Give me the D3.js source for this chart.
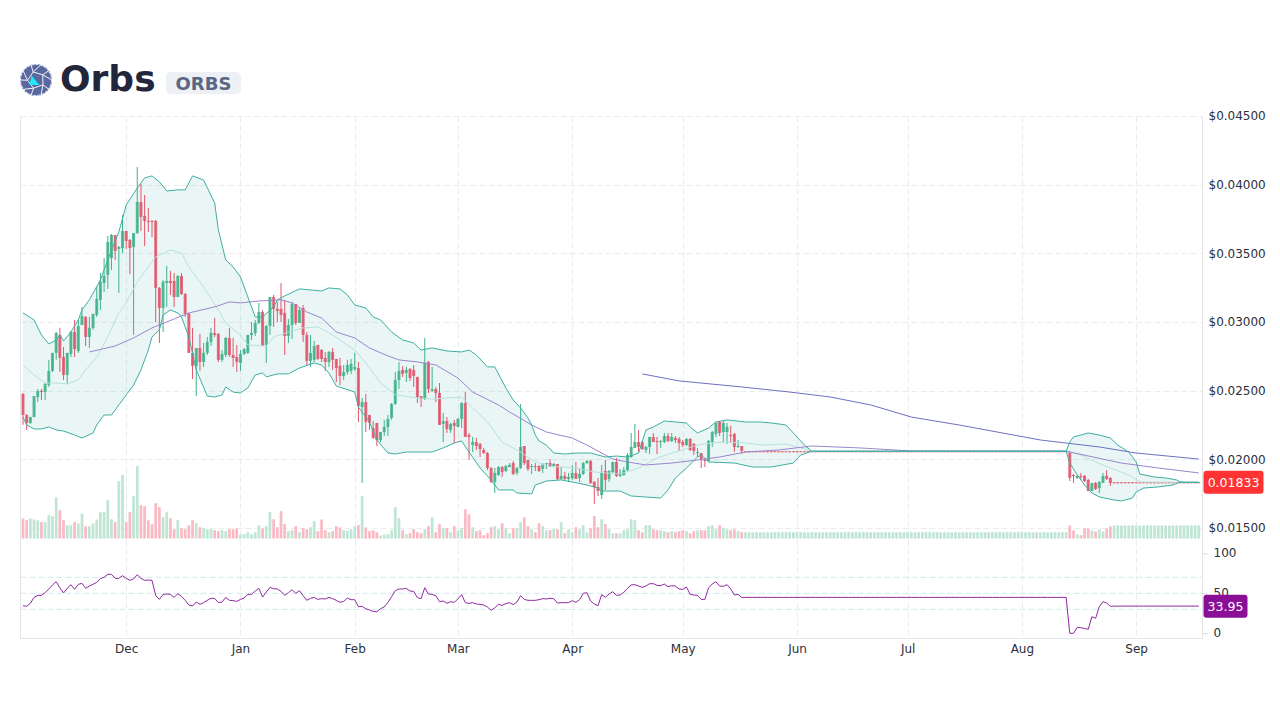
<!DOCTYPE html>
<html>
<head>
<meta charset="utf-8">
<title>Orbs</title>
<script src="https://cdn.jsdelivr.net/npm/d3@7"></script>
<style>
  html, body { margin: 0; background: #fff; }
  text { font-family: "DejaVu Sans", sans-serif; }
</style>
</head>
<body>
<svg id="chart" width="1280" height="720"></svg>
<script>
// prices below are in hundred-thousandths of a dollar, one entry per day from 3 Nov
const toDollars = d => d / 1e5

const opens = [
  2476,2323,2265,2308,2454,2498,2490,2542,2644,2775,
  2906,2745,2615,2767,2927,2789,2978,3037,2891,2957,
  3052,3161,3284,3343,3466,3634,3532,3539,3663,3597,
  3546,3648,3874,3772,3736,3736,3736,3248,3102,3284,
  3299,3299,3182,3335,3204,3059,2775,2680,2811,2709,
  2775,2855,2920,2913,2724,2760,2884,2760,2745,2702,
  2767,2775,2906,2920,2993,3073,2833,2971,3182,3095,
  3095,3066,2898,2978,3131,2993,3102,2906,2717,2724,
  2833,2796,2738,2709,2782,2731,2680,2607,2636,2644,
  2658,2665,2381,2417,2323,2228,2265,2141,2199,2236,
  2301,2403,2578,2651,2629,2658,2651,2600,2461,2439,
  2709,2498,2512,2483,2258,2279,2214,2265,2236,2294,
  2410,2177,2104,2126,2112,2068,2046,1937,1835,1886,
  1944,1915,1944,1973,1901,1937,2097,1995,1944,1951,
  1951,1930,1966,1973,1944,1966,1857,1879,1857,1864,
  1901,1864,1893,1973,1988,1835,1799,1740,1915,1857,
  1908,1981,1879,1886,1922,2017,2083,2126,2126,2068,
  2090,2163,2133,2126,2126,2170,2133,2155,2148,2126,
  2104,2148,2112,2046,2046,1995,1988,2126,2185,2272,
  2199,2199,2177,2185,2090,2097,2059,2059,2059,2059,
  2059,2059,2059,2059,2059,2059,2059,2059,2059,2059,
  2059,2059,2059,2059,2059,2059,2059,2059,2059,2059,
  2059,2059,2059,2059,2059,2059,2059,2059,2059,2059,
  2059,2059,2059,2059,2059,2059,2059,2059,2059,2059,
  2059,2059,2059,2059,2059,2059,2059,2059,2059,2059,
  2059,2059,2059,2059,2059,2059,2059,2059,2059,2059,
  2059,2059,2059,2059,2059,2059,2059,2059,2059,2059,
  2059,2059,2059,2059,2059,2059,2059,2059,2059,2059,
  2059,2059,2059,2059,2053,1886,1864,1879,1879,1850,
  1769,1828,1791,1828,1879,1864,1833,1833,1833,1833,
  1833,1833,1833,1833,1833,1833,1833,1833,1833,1833,
  1833,1833,1833,1833,1833,1833,1833,1833,1833,1833
].map(toDollars)

const closes = [
  2323,2265,2308,2461,2498,2490,2549,2644,2775,2920,
  2738,2615,2775,2927,2803,2971,3044,2891,2957,3059,
  3168,3292,3335,3583,3634,3517,3546,3663,3590,3539,
  3648,3874,3765,3736,3729,3729,3248,3102,3292,3299,
  3284,3182,3335,3204,3059,2775,2680,2811,2709,2775,
  2855,2920,2906,2724,2767,2884,2760,2738,2709,2767,
  2803,2906,2920,2993,3073,2825,2971,3182,3095,3081,
  3052,2898,2978,3131,2993,3088,2906,2717,2775,2825,
  2731,2731,2709,2782,2724,2665,2607,2636,2687,2695,
  2673,2388,2417,2272,2265,2155,2141,2199,2236,2294,
  2403,2578,2644,2622,2651,2592,2607,2454,2439,2702,
  2512,2512,2483,2251,2279,2221,2258,2243,2294,2410,
  2163,2163,2126,2097,2075,2046,1937,1835,1901,1944,
  1908,1951,1959,1893,1937,2090,1973,1930,1951,1944,
  1915,1966,1973,1944,1966,1857,1879,1857,1871,1901,
  1857,1893,1973,1988,1828,1799,1769,1901,1850,1915,
  1981,1879,1901,1922,2032,2090,2126,2090,2075,2090,
  2163,2126,2126,2133,2170,2133,2163,2141,2119,2104,
  2148,2068,2061,2053,1995,1988,2133,2199,2265,2192,
  2265,2236,2170,2090,2097,2061,2059,2059,2059,2059,
  2059,2059,2059,2059,2059,2059,2059,2059,2059,2059,
  2059,2059,2059,2059,2059,2059,2059,2059,2059,2059,
  2059,2059,2059,2059,2059,2059,2059,2059,2059,2059,
  2059,2059,2059,2059,2059,2059,2059,2059,2059,2059,
  2059,2059,2059,2059,2059,2059,2059,2059,2059,2059,
  2059,2059,2059,2059,2059,2059,2059,2059,2059,2059,
  2059,2059,2059,2059,2059,2059,2059,2059,2059,2059,
  2059,2059,2059,2059,2059,2059,2059,2059,2059,2059,
  2059,2059,2059,2059,1864,1879,1879,1871,1842,1769,
  1828,1784,1835,1879,1857,1828,1833,1833,1833,1833,
  1833,1833,1833,1833,1833,1833,1833,1833,1833,1833,
  1833,1833,1833,1833,1833,1833,1833,1833,1833,1833
].map(toDollars)

const highs = [
  2483,2330,2309,2461,2512,2512,2556,2724,2775,2927,
  2957,2818,2775,2935,3015,3015,3110,3044,3037,3059,
  3255,3357,3466,3627,3641,3634,3553,3779,3663,3605,
  3648,4129,4005,3925,3831,3743,3743,3255,3306,3408,
  3372,3357,3343,3357,3212,3066,2957,2811,2913,2847,
  2891,2957,3030,2920,2796,2891,2957,2884,2833,2796,
  2811,2906,3000,3015,3139,3088,2978,3182,3197,3146,
  3284,3161,3022,3146,3131,3102,3124,2927,2906,2862,
  2833,2803,2782,2789,2811,2731,2738,2687,2724,2731,
  2775,2709,2447,2476,2323,2279,2265,2199,2287,2323,
  2410,2636,2709,2680,2673,2665,2687,2600,2461,2884,
  2717,2673,2527,2556,2338,2308,2265,2287,2301,2417,
  2490,2192,2163,2155,2119,2083,2053,1944,1937,1951,
  1951,1959,1973,1988,1944,2403,2097,1995,1966,1973,
  1959,1973,1973,2002,1973,1966,1944,1908,1901,1959,
  1981,1937,1981,1995,1995,1842,1864,1959,1995,1922,
  1981,2010,1930,1944,2046,2192,2258,2214,2133,2097,
  2163,2192,2163,2141,2192,2192,2192,2170,2163,2141,
  2155,2155,2119,2083,2046,2010,2141,2206,2272,2279,
  2279,2265,2243,2192,2141,2097,2059,2059,2059,2059,
  2059,2059,2059,2059,2059,2059,2059,2059,2059,2059,
  2059,2059,2059,2059,2059,2059,2059,2059,2059,2059,
  2059,2059,2059,2059,2059,2059,2059,2059,2059,2059,
  2059,2059,2059,2059,2059,2059,2059,2059,2059,2059,
  2059,2059,2059,2059,2059,2059,2059,2059,2059,2059,
  2059,2059,2059,2059,2059,2059,2059,2059,2059,2059,
  2059,2059,2059,2059,2059,2059,2059,2059,2059,2059,
  2059,2059,2059,2059,2059,2059,2059,2059,2059,2059,
  2059,2059,2059,2059,2061,1893,1886,1901,1886,1857,
  1828,1835,1842,1901,1922,1871,1833,1833,1833,1833,
  1833,1833,1833,1833,1833,1833,1833,1833,1833,1833,
  1833,1833,1833,1833,1833,1833,1833,1833,1833,1833
].map(toDollars)

const lows = [
  2251,2214,2258,2308,2417,2432,2432,2527,2636,2724,
  2636,2578,2549,2745,2745,2775,2978,2825,2811,2942,
  3037,3088,3219,3241,3379,3452,3212,3503,3532,3350,
  2906,3641,3663,3553,3656,3619,3000,2847,2927,3110,
  3197,3110,3182,3197,3037,2775,2585,2461,2644,2673,
  2760,2825,2891,2709,2709,2745,2745,2673,2636,2644,
  2760,2767,2869,2898,2986,2825,2702,2906,2964,3000,
  3000,2760,2847,2877,2978,2993,2855,2687,2673,2709,
  2724,2709,2644,2673,2651,2563,2542,2578,2615,2622,
  2644,2272,1828,2199,2214,2148,2097,2126,2170,2170,
  2287,2396,2512,2600,2563,2571,2527,2410,2381,2432,
  2483,2490,2417,2251,2126,2192,2192,2119,2236,2228,
  2163,1995,2053,2068,2017,2039,1922,1828,1755,1879,
  1871,1908,1944,1886,1886,1930,1959,1915,1893,1915,
  1908,1901,1930,1944,1944,1850,1850,1842,1835,1850,
  1857,1835,1886,1966,1820,1675,1733,1711,1777,1835,
  1901,1871,1871,1879,1908,2010,2083,2053,2068,2046,
  2039,2126,2039,2083,2119,2126,2126,2119,2061,2090,
  2097,2061,2032,2017,1937,1944,1981,2090,2163,2170,
  2119,2112,2119,2053,2083,2039,2059,2059,2059,2059,
  2059,2059,2059,2059,2059,2059,2059,2059,2059,2059,
  2059,2059,2059,2059,2059,2059,2059,2059,2059,2059,
  2059,2059,2059,2059,2059,2059,2059,2059,2059,2059,
  2059,2059,2059,2059,2059,2059,2059,2059,2059,2059,
  2059,2059,2059,2059,2059,2059,2059,2059,2059,2059,
  2059,2059,2059,2059,2059,2059,2059,2059,2059,2059,
  2059,2059,2059,2059,2059,2059,2059,2059,2059,2059,
  2059,2059,2059,2059,2059,2059,2059,2059,2059,2059,
  2059,2059,2059,2059,1842,1828,1857,1850,1835,1769,
  1769,1777,1755,1828,1850,1806,1833,1833,1833,1833,
  1833,1833,1833,1833,1833,1833,1833,1833,1833,1833,
  1833,1833,1833,1833,1833,1833,1833,1833,1833,1833
].map(toDollars)

// volume has no visible scale, so these are relative readings
const volumes = [
  20,18.3,20,19,18,16.3,16.3,23.3,22.3,41,
  28.3,18.3,13.3,13.3,16.3,15,25,12.3,12.3,15,
  19,26.3,26.3,38.3,19.3,16.3,57.3,63.3,16.3,26.3,
  42.3,72.3,33.3,32.3,18.3,14.3,35.3,31.3,21.3,26.3,
  20.3,9.3,18.3,10.3,9.3,13.3,18.3,15.3,11.3,10.3,
  9.3,9.3,8.3,7.3,8.3,7.3,9.3,9.3,10.3,4.3,
  4.3,6.3,4.3,6.3,13.3,10.3,12.3,26.3,19.3,11.3,
  27.3,14.3,7.3,8.3,12.3,6.3,10.3,9.3,11.3,17.3,
  7.3,19,8.3,6.3,7.3,12.3,11,8.3,7.7,9.3,
  12.3,13.3,42.3,11,7.3,8.3,6.3,3,4,4.3,
  8.3,31.3,20.3,8.3,4.3,5.3,9.3,6.3,5.3,9.3,
  12.3,21.3,6.3,14.3,10.3,10.3,6.3,12.3,8.3,10.3,
  29.3,24.3,11.3,7.3,8.3,3.3,5.3,11.3,12.3,9.3,
  15.3,10.3,5.3,10.3,10.3,16.3,21.3,12.3,9.3,6.3,
  15.3,12.3,8.3,8.3,9.3,9.3,16.3,5.3,9.3,6.3,
  11.3,9.3,13.3,6.3,10.3,22.3,11.3,19.3,14.3,9.3,
  5.3,5.3,5.3,8.3,9.3,19.3,18.3,8.3,6.3,13.3,
  13.3,9.3,8.3,8.3,7.3,6.3,7.3,6.3,7.3,8.3,
  7.3,5.3,7.3,8.3,8.3,8.3,12.3,13.3,9.3,13.3,
  10.3,9.3,8.3,9.3,7.3,6.3,6.3,6.3,6.3,6.3,
  6.3,6.3,6.3,6.3,6.3,6.3,6.3,6.3,6.3,6.3,
  6.3,6.3,6.3,6.3,6.3,6.3,6.3,6.3,6.3,6.3,
  6.3,6.3,6.3,6.3,6.3,6.3,6.3,6.3,6.3,6.3,
  6.3,6.3,6.3,6.3,6.3,6.3,6.3,6.3,6.3,6.3,
  6.3,6.3,6.3,6.3,6.3,6.3,6.3,6.3,6.3,6.3,
  6.3,6.3,6.3,6.3,6.3,6.3,6.3,6.3,6.3,6.3,
  6.3,6.3,6.3,6.3,6.3,6.3,6.3,6.3,6.3,6.3,
  6.3,6.3,6.3,6.3,6.3,6.3,6.3,6.3,6.3,6.3,
  6.3,6.3,6.3,6.3,13,8,4,3.3,10,10,
  8,7,9,7,10,12,13,13,13,13,
  13,13,13,13,13,13,13,13,13,13,
  13,13,13,13,13,13,13,13,13,13
]

const rsi = [
  34.5,33.7,37.4,44.9,47.4,47.4,50.8,55.4,60.4,64.5,
  57,50.4,56.2,60.8,55,61.2,62.4,56.2,59.1,61.2,
  63.7,68.3,70,73.7,73.7,68.7,68.7,72,68.7,66.2,
  67.9,73.3,68.7,66.2,66.6,66.2,47,42.4,48.7,49.1,
  48.7,44.9,49.5,46.2,41.2,35.4,34.1,39.1,36.2,38.3,
  41.2,43.7,43.7,38.3,39.1,44.9,41.2,40.8,39.9,42.4,
  44.1,48.7,48.7,52.9,56.2,45.3,51.6,57.4,55.8,55.4,
  52.4,47.4,50.8,54.5,49.9,53.3,47,41.2,43.7,44.9,
  42.4,43.3,42.9,44.9,43.3,41.2,38.7,39.9,44.1,42,
  42,33.3,33.7,30.8,29.1,27.4,27,30.8,32.9,38.7,
  45.8,53.3,55.4,55.4,56.2,52.8,52.4,44.5,43.3,57,
  49.1,48.7,47,39.5,40.4,37.4,39.5,38.7,42.9,48.3,
  38.3,37.4,38.3,36.6,36.2,35.4,32.9,28.7,32,36.2,
  34.9,37,38.3,35.8,39.1,47,42.4,41.2,41.2,41.2,
  42,43.3,42.9,43.7,43.3,37.8,38.3,38.3,38.3,40.8,
  38.7,42,49.9,50.8,40.4,36.6,34.5,48.3,44.9,49.1,
  52,47.4,47.9,51.2,56.2,60.4,60.8,59.1,57.4,59.1,
  62,62,59.9,59.5,61.6,58.3,59.5,59.1,55.4,54.9,
  57.8,48.7,47.9,47.4,42.4,42.4,57,61.6,64.5,59.1,
  58.7,60.8,55.4,47.9,48.7,44.9,44.9,44.9,44.9,44.9,
  44.9,44.9,44.9,44.9,44.9,44.9,44.9,44.9,44.9,44.9,
  44.9,44.9,44.9,44.9,44.9,44.9,44.9,44.9,44.9,44.9,
  44.9,44.9,44.9,44.9,44.9,44.9,44.9,44.9,44.9,44.9,
  44.9,44.9,44.9,44.9,44.9,44.9,44.9,44.9,44.9,44.9,
  44.9,44.9,44.9,44.9,44.9,44.9,44.9,44.9,44.9,44.9,
  44.9,44.9,44.9,44.9,44.9,44.9,44.9,44.9,44.9,44.9,
  44.9,44.9,44.9,44.9,44.9,44.9,44.9,44.9,44.9,44.9,
  44.9,44.9,44.9,44.9,44.9,44.9,44.9,44.9,44.9,44.9,
  44.9,44.9,44.9,44.9,0,0,7.4,7,6,5,
  20.8,18.7,33.3,39.5,37.9,33.7,33.95,33.95,33.95,33.95,
  33.95,33.95,33.95,33.95,33.95,33.95,33.95,33.95,33.95,33.95,
  33.95,33.95,33.95,33.95,33.95,33.95,33.95,33.95,33.95,33.95
]

const bbUpper = [[0,3066],[3,3015],[5,2906],[7,2840],[9,2869],[10,2906],[11,2862],[13,2927],[15,3015],[16,3088],[18,3161],[21,3306],[23,3452],[26,3656],[28,3852],[31,3976],[33,4049],[35,4064],[37,4020],[39,3954],[42,3962],[44,3962],[46,4064],[49,4034],[52,3867],[53,3670],[55,3452],[57,3401],[59,3328],[63,3037],[65,3037],[68,3110],[69,3161],[71,3190],[75,3241],[81,3226],[83,3248],[86,3241],[88,3197],[90,3124],[93,3102],[95,3037],[97,3015],[100,2927],[103,2869],[106,2847],[108,2796],[111,2811],[115,2789],[119,2782],[121,2796],[123,2760],[126,2673],[128,2673],[131,2520],[133,2432],[135,2374],[137,2301],[138,2250],[139,2177],[140,2134],[142,2104],[144,2046],[147,2039],[150,2046],[154,2046],[155,2039],[158,2017],[161,2024],[164,2017],[167,2046],[169,2214],[171,2235],[174,2279],[177,2272],[180,2265],[181,2236],[183,2192],[186,2228],[188,2272],[191,2287],[196,2272],[200,2272],[203,2265],[207,2250],[209,2192],[212,2104],[214,2059],[283,2059],[284,2126],[285,2163],[287,2177],[289,2192],[292,2177],[295,2155],[297,2104],[300,2053],[302,1981],[303,1893],[307,1871],[310,1864],[313,1850],[314,1835],[315,1833],[319,1833]]
const bbLower = [[0,2308],[1,2250],[3,2221],[5,2221],[7,2236],[9,2214],[11,2206],[14,2177],[16,2155],[19,2192],[20,2250],[22,2323],[24,2323],[26,2396],[28,2469],[30,2541],[32,2651],[34,2796],[35,2891],[37,2942],[38,3051],[40,3088],[42,3066],[43,3037],[45,2891],[47,2651],[50,2461],[52,2454],[54,2469],[55,2527],[57,2490],[59,2483],[61,2520],[63,2614],[65,2629],[66,2600],[69,2622],[72,2622],[75,2665],[79,2702],[81,2687],[83,2629],[85,2534],[90,2490],[91,2381],[94,2272],[96,2141],[99,2046],[101,2039],[104,2053],[111,2053],[114,2083],[117,2119],[119,2134],[121,2053],[124,1937],[127,1850],[129,1777],[130,1777],[133,1777],[134,1755],[138,1748],[139,1813],[142,1842],[146,1850],[149,1835],[153,1813],[156,1791],[157,1769],[162,1769],[165,1733],[173,1718],[175,1777],[177,1864],[180,1937],[183,2017],[184,2032],[186,1981],[193,1973],[198,1944],[203,1944],[209,1973],[211,2032],[214,2059],[283,2059],[284,1973],[286,1886],[288,1813],[290,1755],[292,1726],[296,1704],[298,1697],[301,1718],[302,1762],[304,1791],[308,1799],[312,1813],[314,1835],[315,1833],[319,1833]]
const bbMiddle = [[0,2687],[3,2614],[6,2556],[9,2556],[12,2549],[15,2578],[17,2651],[20,2745],[23,2891],[26,3066],[28,3139],[31,3292],[34,3401],[36,3474],[40,3525],[43,3503],[45,3401],[49,3255],[53,3088],[55,2993],[59,2906],[61,2833],[66,2825],[68,2891],[72,2927],[76,2957],[80,2964],[84,2906],[90,2796],[93,2702],[97,2556],[101,2469],[107,2447],[111,2439],[119,2454],[122,2374],[126,2272],[130,2126],[135,2053],[138,1995],[142,1952],[146,1944],[150,1937],[155,1908],[158,1901],[162,1893],[167,1937],[172,2010],[177,2053],[183,2104],[187,2119],[191,2126],[196,2119],[201,2104],[207,2112],[211,2083],[214,2059],[283,2059],[287,2032],[291,1981],[295,1937],[300,1886],[303,1835],[319,1833]]
const ma50 = [[18,2782],[25,2825],[30,2884],[35,2957],[41,3022],[45,3066],[52,3110],[56,3146],[59,3139],[64,3153],[70,3161],[73,3139],[77,3073],[81,3029],[85,2927],[90,2884],[94,2811],[99,2753],[102,2724],[107,2709],[112,2687],[118,2592],[122,2490],[129,2396],[132,2345],[138,2250],[142,2199],[149,2155],[153,2104],[160,2002],[164,1981],[169,1959],[176,1973],[183,1995],[189,2017],[196,2053],[205,2068],[214,2097],[227,2083],[241,2061],[283,2059],[298,1973],[308,1937],[319,1901]]
const ma200 = [[168,2622],[178,2571],[195,2527],[208,2490],[219,2454],[230,2396],[241,2308],[254,2250],[276,2141],[292,2090],[302,2046],[319,2002]]

const priceTicks = [0.045, 0.04, 0.035, 0.03, 0.025, 0.02, 0.015]
const rsiTicks = [100, 50, 0]
const rsiGuides = [70, 50, 30]
const firstDay = new Date(Date.UTC(2021, 10, 3))
const monthTicks = d3.utcMonth.range(new Date(Date.UTC(2021, 11, 1)), new Date(Date.UTC(2022, 8, 2)))

const UP = "#3fb389", DOWN = "#e2566c"
const svg = d3.select("#chart")

const x = d3.scaleUtc()
  .domain([firstDay, d3.utcDay.offset(firstDay, 319)])
  .range([23, 1198.8])
const y = d3.scaleLinear().domain([0.015, 0.045]).range([528, 116])
const yVol = d3.scaleLinear().domain([0, 75]).range([538.5, 463.5])
const yRsi = d3.scaleLinear().domain([0, 100]).range([633.3, 553.3])

const dayX = i => x(d3.utcDay.offset(firstDay, i))
const plotLeft = 20.5, plotRight = 1202.5, plotTop = 116.5, plotBottom = 638.5

// Grid
const gridH = svg.append("g").attr("stroke", "#ececef").attr("stroke-dasharray", "6 3")
gridH.selectAll("line").data(priceTicks).enter().append("line")
  .attr("x1", plotLeft).attr("x2", plotRight)
  .attr("y1", d => Math.round(y(d)) + 0.5).attr("y2", d => Math.round(y(d)) + 0.5)

const gridV = svg.append("g").attr("stroke", "#ececef").attr("stroke-dasharray", "6 3")
gridV.selectAll("line").data(monthTicks).enter().append("line")
  .attr("x1", d => Math.round(x(d)) + 0.5).attr("x2", d => Math.round(x(d)) + 0.5)
  .attr("y1", plotTop).attr("y2", plotBottom)

svg.append("g").attr("stroke", "#cfe9ef").attr("stroke-dasharray", "6 3")
  .selectAll("line").data(rsiGuides).enter().append("line")
  .attr("x1", plotLeft).attr("x2", plotRight)
  .attr("y1", d => yRsi(d)).attr("y2", d => yRsi(d))

// Frame
svg.append("path")
  .attr("d", `M${plotLeft},${plotTop}V${plotBottom}H${plotRight}V${plotTop}`)
  .attr("fill", "none").attr("stroke", "#e6e6e9")

// Volume
svg.append("g").selectAll("rect").data(volumes).enter().append("rect")
  .attr("x", (d, i) => dayX(i) - 1.35)
  .attr("width", 2.7)
  .attr("y", d => yVol(d))
  .attr("height", d => yVol(0) - yVol(d))
  .attr("fill", (d, i) => closes[i] >= opens[i] ? "#bfe5d4" : "#f9bac3")

// Bollinger fill
const priceLine = d3.line().x(d => dayX(d[0])).y(d => y(toDollars(d[1])))
svg.append("path")
  .attr("d", priceLine(bbUpper.concat(bbLower.slice().reverse())) + "Z")
  .attr("fill", "rgba(38,166,154,0.1)")

// Candles
const candles = svg.append("g")
candles.selectAll(".wick").data(opens).enter().append("rect")
  .attr("class", "wick")
  .attr("x", (d, i) => dayX(i) - 0.5)
  .attr("width", 1)
  .attr("y", (d, i) => y(highs[i]))
  .attr("height", (d, i) => Math.max(y(lows[i]) - y(highs[i]), 1))
  .attr("fill", (d, i) => closes[i] > d ? UP : DOWN)
candles.selectAll(".body").data(opens).enter().append("rect")
  .attr("class", "body")
  .attr("x", (d, i) => dayX(i) - 1.5)
  .attr("width", 3)
  .attr("y", (d, i) => y(Math.max(d, closes[i])))
  .attr("height", (d, i) => Math.max(Math.abs(y(d) - y(closes[i])), 1))
  .attr("fill", (d, i) => closes[i] > d ? UP : DOWN)
  .attr("opacity", 0.85)

// Indicator lines
const lines = [
  [bbMiddle, "#b6e2dc"],
  [ma50, "#9a86cf"],
  [ma200, "#6d70c2"],
  [bbUpper, "#3faea2"],
  [bbLower, "#3faea2"]
]
svg.append("g").attr("fill", "none").attr("stroke-width", 1)
  .selectAll("path").data(lines).enter().append("path")
  .attr("d", d => priceLine(d[0]))
  .attr("stroke", d => d[1])

// RSI
svg.append("path")
  .attr("d", d3.line().x((d, i) => dayX(i)).y(d => yRsi(d))(rsi))
  .attr("fill", "none").attr("stroke", "#8f2a9f").attr("stroke-width", 1)

// Axes
const priceAxis = d3.axisRight(y).tickValues(priceTicks)
  .tickFormat(d => "$" + d.toFixed(5)).tickSize(0).tickPadding(6)
const gPrice = svg.append("g").attr("transform", `translate(${plotRight},0)`).call(priceAxis)
gPrice.select(".domain").remove()

const rsiAxis = d3.axisRight(yRsi).tickValues(rsiTicks).tickSize(5).tickPadding(6)
const gRsi = svg.append("g").attr("transform", `translate(${plotRight},0)`).call(rsiAxis)
gRsi.select(".domain").remove()
gRsi.selectAll("line").attr("stroke", "#d8d8dc")
gRsi.selectAll("text").attr("y", -1)

const timeAxis = d3.axisBottom(x).tickValues(monthTicks).tickFormat(d3.utcFormat("%b")).tickSize(0).tickPadding(6)
const gTime = svg.append("g").attr("transform", `translate(0,${plotBottom})`).call(timeAxis)
gTime.select(".domain").remove()

svg.selectAll(".tick text")
  .style("font-family", '"DejaVu Sans", sans-serif')
  .style("font-size", "12px")
  .attr("fill", "#2b2f3a")

// Last value tags
const addTag = (value, text, scale, width, color) => {
  const g = svg.append("g").attr("transform", `translate(1203.5,${scale(value)})`)
  g.append("rect").attr("y", -11.5).attr("width", width).attr("height", 23).attr("rx", 3).attr("fill", color)
  g.append("text").attr("x", width / 2).attr("dy", "0.35em").attr("text-anchor", "middle")
    .attr("fill", "#fff").attr("font-size", 12.5).text(text)
}
addTag(closes[closes.length - 1], "0.01833", y, 60, "#ff3333")
addTag(rsi[rsi.length - 1], "33.95", yRsi, 44, "#8b0f96")

// Title
svg.append("text").attr("x", 60).attr("y", 91)
  .attr("font-size", 36).attr("font-weight", 700).attr("fill", "#22263a").text("Orbs")
svg.append("rect").attr("x", 166).attr("y", 72).attr("width", 75).attr("height", 22).attr("rx", 5).attr("fill", "#edf0f4")
svg.append("text").attr("x", 203.5).attr("y", 89.5).attr("text-anchor", "middle")
  .attr("font-size", 18).attr("font-weight", 700).attr("fill", "#5a6782").text("ORBS")

// Logo
const logo = svg.append("g").attr("transform", "translate(36,80)")
logo.append("circle").attr("r", 16).attr("fill", "#5a689f")
const rim = d3.range(10).map(k => [16 * Math.cos(k * Math.PI / 5), 16 * Math.sin(k * Math.PI / 5)])
const hub = d3.range(5).map(k => [8.5 * Math.cos(k * 2 * Math.PI / 5 + 0.6), 8.5 * Math.sin(k * 2 * Math.PI / 5 + 0.6)])
const facets = d3.path()
hub.forEach((p, k) => {
  const next = hub[(k + 1) % 5]
  facets.moveTo(p[0], p[1]); facets.lineTo(next[0], next[1])
  const a = rim[(k * 2 + 1) % 10], b = rim[(k * 2 + 2) % 10]
  facets.moveTo(p[0], p[1]); facets.lineTo(a[0], a[1])
  facets.moveTo(p[0], p[1]); facets.lineTo(b[0], b[1])
})
logo.append("path").attr("d", facets.toString()).attr("fill", "none").attr("stroke", "#f1f3fa").attr("stroke-width", 1)
logo.append("circle").attr("r", 15.5).attr("fill", "none").attr("stroke", "#f1f3fa").attr("stroke-width", 1).attr("stroke-dasharray", "3 1")
logo.append("path").attr("d", "M-4.5,-4.5L3.5,5H-6.5Z").attr("fill", "#1fe9f6")
</script>
</body>
</html>
